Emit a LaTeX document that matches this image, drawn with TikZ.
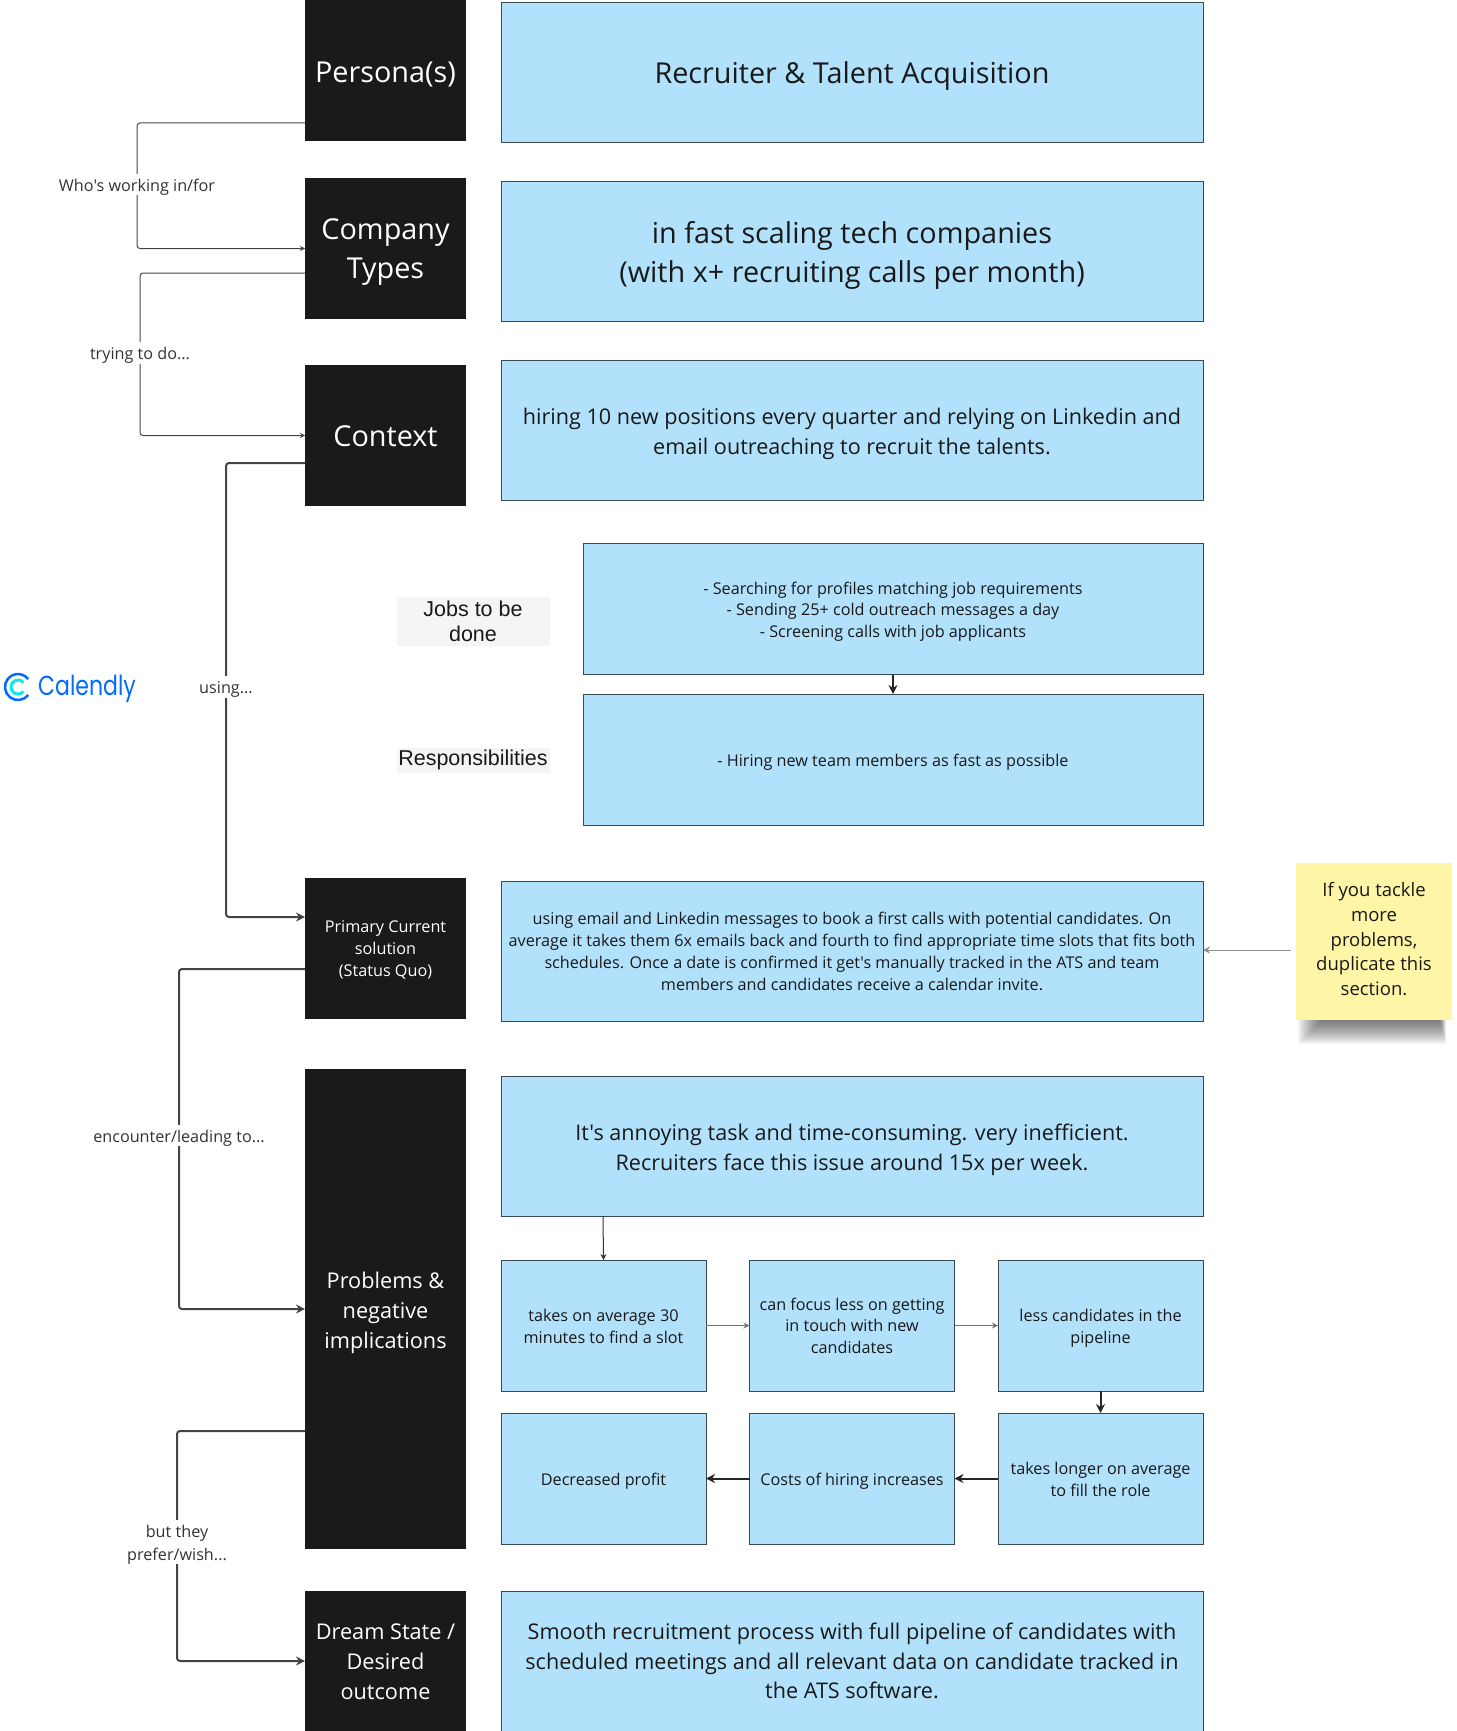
\documentclass[tikz,border=0pt]{standalone}
\usepackage{fontspec}
\setmainfont{Open Sans}[Ligatures=TeXOff]
\newfontfamily\arialfont{Liberation Sans}
\newfontfamily\logofont{Poppins}
\usetikzlibrary{arrows.meta,calc}
\definecolor{skyfill}{HTML}{B2E1FB}
\definecolor{skyline}{HTML}{3A4A52}
\definecolor{inkbox}{HTML}{1A1A1A}
\definecolor{wire}{HTML}{444444}
\definecolor{labelink}{HTML}{333333}
\definecolor{stickyfill}{HTML}{FFF5A6}
\definecolor{callblue}{HTML}{006BFF}
\definecolor{callcyan}{HTML}{0AE8F0}
\newcommand{\uprule}[1]{\rule{0pt}{#1em}}
\newcommand{\dnrule}[1]{\rule[-#1em]{0pt}{#1em}}
\tikzset{
  x=1pt,y=-1pt,
  fsXL/.style={font=\fontsize{28.8}{39}\selectfont},
  fsL/.style={font=\fontsize{21.7}{29.7}\selectfont},
  fsM/.style={font=\fontsize{21.6}{29.7}\selectfont},
  fsS/.style={font=\fontsize{16.2}{21.8}\selectfont},
  inkcard/.style={fill=inkbox,draw=none,text=white,align=center,inner sep=0pt,outer sep=0pt,minimum width=161pt,minimum height=141pt},
  skycard/.style={fill=skyfill,draw=skyline,line width=1pt,text=black!90,align=center,inner sep=0pt,outer sep=0pt,minimum width=702pt,minimum height=140pt},
  jobcard/.style={skycard,minimum width=620pt,minimum height=131pt,fsS},
  effcard/.style={skycard,minimum width=205pt,minimum height=131pt,fsS},
  sidetag/.style={fill=black!4,align=center,inner sep=0pt,outer sep=0pt,minimum width=153pt,font=\arialfont\fontsize{21.5}{24.5}\selectfont,text=black!90},
  wirelabel/.style={fill=white,text=labelink,align=center,inner sep=0pt,font=\fontsize{16.2}{23}\selectfont},
  wirethin/.style={draw=wire,line width=1pt,rounded corners=3pt,-{Stealth[length=5pt,width=5pt]}},
  wirethick/.style={draw=wire,line width=2pt,rounded corners=3pt,-{Stealth[length=9pt,width=9pt]}},
  wirefaint/.style={draw=black!55,line width=1pt,-{Stealth[length=6pt,width=6pt]}},
  wirebold/.style={draw=black!85,line width=2pt,-{Stealth[length=9pt,width=9pt]}},
}
\begin{document}
\begin{tikzpicture}
\useasboundingbox (0,0) rectangle (1456,1731);
% left column
\node[inkcard,fsXL] (persona) at (385.5,70.5) {\uprule{1.13}Persona(s)\dnrule{.3}};
\node[inkcard,fsXL] (company) at (385.5,248.5) {\uprule{1.06}Company\\Types\dnrule{.3}};
\node[inkcard,fsXL] (context) at (385.5,435.5) {\uprule{1.06}Context\dnrule{.3}};
\node[inkcard,fsS] (primary) at (385.5,948) {\uprule{.96}Primary Current\\solution\\(Status Quo)\dnrule{.18}};
\node[inkcard,fsL,minimum height=480pt] (problems) at (385.5,1309) {\uprule{1.16}Problems \&\\negative\\implications\dnrule{.3}};
\node[inkcard,fsL,minimum height=140pt] (dream) at (385.5,1661) {\uprule{1.07}Dream State /\\Desired\\outcome\dnrule{.3}};
% right column
\node[skycard,fsXL] (bpersona) at (852,73) {\uprule{1.06}Recruiter \& Talent Acquisition\dnrule{.3}};
\node[skycard,fsXL] (bcompany) at (852,251.5) {\uprule{1.13}in fast scaling tech companies\\(with x+ recruiting calls per month)\dnrule{.3}};
\node[skycard,fsM] (bcontext) at (852,430) {\uprule{1.16}hiring 10 new positions every quarter and relying on Linkedin and\\email outreaching to recruit the talents.\dnrule{.3}};
\node[jobcard] (bjobs) at (893,609) {\uprule{1.1}- Searching for profiles matching job requirements\\- Sending 25+ cold outreach messages a day\\- Screening calls with job applicants\dnrule{.18}};
\node[jobcard] (bresp) at (893,759.5) {\uprule{1.1}- Hiring new team members as fast as possible\dnrule{.18}};
\node[skycard,fsS] (bprimary) at (852,951) {\uprule{.97}using email and Linkedin messages to book a first calls with potential candidates. On\\average it takes them 6x emails back and fourth to find appropriate time slots that fits both\\schedules. Once a date is confirmed it get's manually tracked in the ATS and team\\members and candidates receive a calendar invite.\dnrule{.18}};
\node[skycard,fsM] (bproblem) at (852,1146) {\uprule{1.16}It's annoying task and time-consuming. very inefficient.\\Recruiters face this issue around 15x per week.\dnrule{.3}};
\node[effcard] (e1) at (603.5,1325.5) {\uprule{1.08}takes on average 30\\minutes to find a slot\dnrule{.18}};
\node[effcard] (e2) at (852,1325.5) {\uprule{.97}can focus less on getting\\in touch with new\\candidates\dnrule{.18}};
\node[effcard] (e3) at (1100.5,1325.5) {\uprule{1.08}less candidates in the\\pipeline\dnrule{.18}};
\node[effcard] (e4) at (1100.5,1478.5) {\uprule{1.08}takes longer on average\\to fill the role\dnrule{.18}};
\node[effcard] (e5) at (852,1478.5) {\uprule{1.1}Costs of hiring increases\dnrule{.18}};
\node[effcard] (e6) at (603.5,1478.5) {\uprule{1.1}Decreased profit\dnrule{.18}};
\node[skycard,fsM] (bdream) at (852,1661) {\uprule{1.06}Smooth recruitment process with full pipeline of candidates with\\scheduled meetings and all relevant data on candidate tracked in\\the ATS software.\dnrule{.3}};
% side tags
\node[sidetag,minimum height=49pt] (tjobs) at (473,621.5) {Jobs to be\\done};
\node[sidetag,minimum height=25pt] (tresp) at (473,760) {Responsibilities};
% sticky shadow
\foreach \i in {0,...,15}{
  \fill[black,opacity=0.045,rounded corners=2pt] ({1298+\i*1.5},1019) rectangle ({1446-\i*0.4},{1044-\i*1.5});
}
\node[fill=stickyfill,text=black!90,align=center,inner sep=0pt,outer sep=0pt,minimum width=156pt,minimum height=157pt,font=\fontsize{18.5}{24.7}\selectfont] (sticky) at (1374,941.5) {\uprule{.85}If you tackle\\more\\problems,\\duplicate this\\section.\dnrule{.35}};
% connectors
\draw[wirethin] ([yshift=-52.5pt]persona.west) -- ++(-168,0) |- (company.west);
\draw[wirethin] ([yshift=-24.5pt]company.west) -- ++(-165,0) |- (context.west);
\draw[wirethick] ([yshift=-27.5pt]context.west) -- ++(-79,0) |- ([yshift=31pt]primary.west);
\draw[wirethick] ([yshift=-21pt]primary.west) -- ++(-126,0) |- (problems.west);
\draw[wirethick] ([yshift=-122pt]problems.west) -- ++(-128,0) |- (dream.west);
\draw[wirebold] (bjobs.south) -- (bresp.north);
\draw[draw=black!80,line width=1pt,-{Stealth[length=6pt,width=6pt]}] ([xshift=-249pt]bproblem.south) -- (e1.north);
\draw[wirefaint] (e1.east) -- (e2.west);
\draw[wirefaint] (e2.east) -- (e3.west);
\draw[wirebold] (e3.south) -- (e4.north);
\draw[wirebold] (e4.west) -- (e5.east);
\draw[wirebold] (e5.west) -- (e6.east);
\draw[draw=black!45,line width=1pt,-{Stealth[length=7pt,width=7pt]}] ([xshift=-5pt,yshift=-8.5pt]sticky.west) -- ([yshift=1pt]bprimary.east);
% connector labels
\node[wirelabel] (l1) at (137,184.5) {\uprule{1.1}Who's working in/for\dnrule{.18}};
\node[wirelabel] (l2) at (140,353) {\uprule{1.1}trying to do...\dnrule{.18}};
\node[wirelabel] (l3) at (226,687) {\uprule{1.1}using...\dnrule{.18}};
\node[wirelabel] (l4) at (179,1135.5) {\uprule{1.1}encounter/leading to...\dnrule{.18}};
\node[wirelabel] (l5) at (177,1542) {\uprule{1.1}but they\\prefer/wish...\dnrule{.18}};
% logo
\draw[callblue,line width=2.5pt] (18,687) ++(38:13) arc[start angle=38,end angle=322,radius=13];
\draw[callcyan,line width=3pt] (18,687) ++(40:7) arc[start angle=40,end angle=320,radius=7];
\node[text=callblue,inner sep=0pt,anchor=base west,font=\logofont\fontsize{22}{22}\selectfont] (logo) at (38,695.5) {\scalebox{1}[1.25]{Calendly}};
\end{tikzpicture}
\end{document}
